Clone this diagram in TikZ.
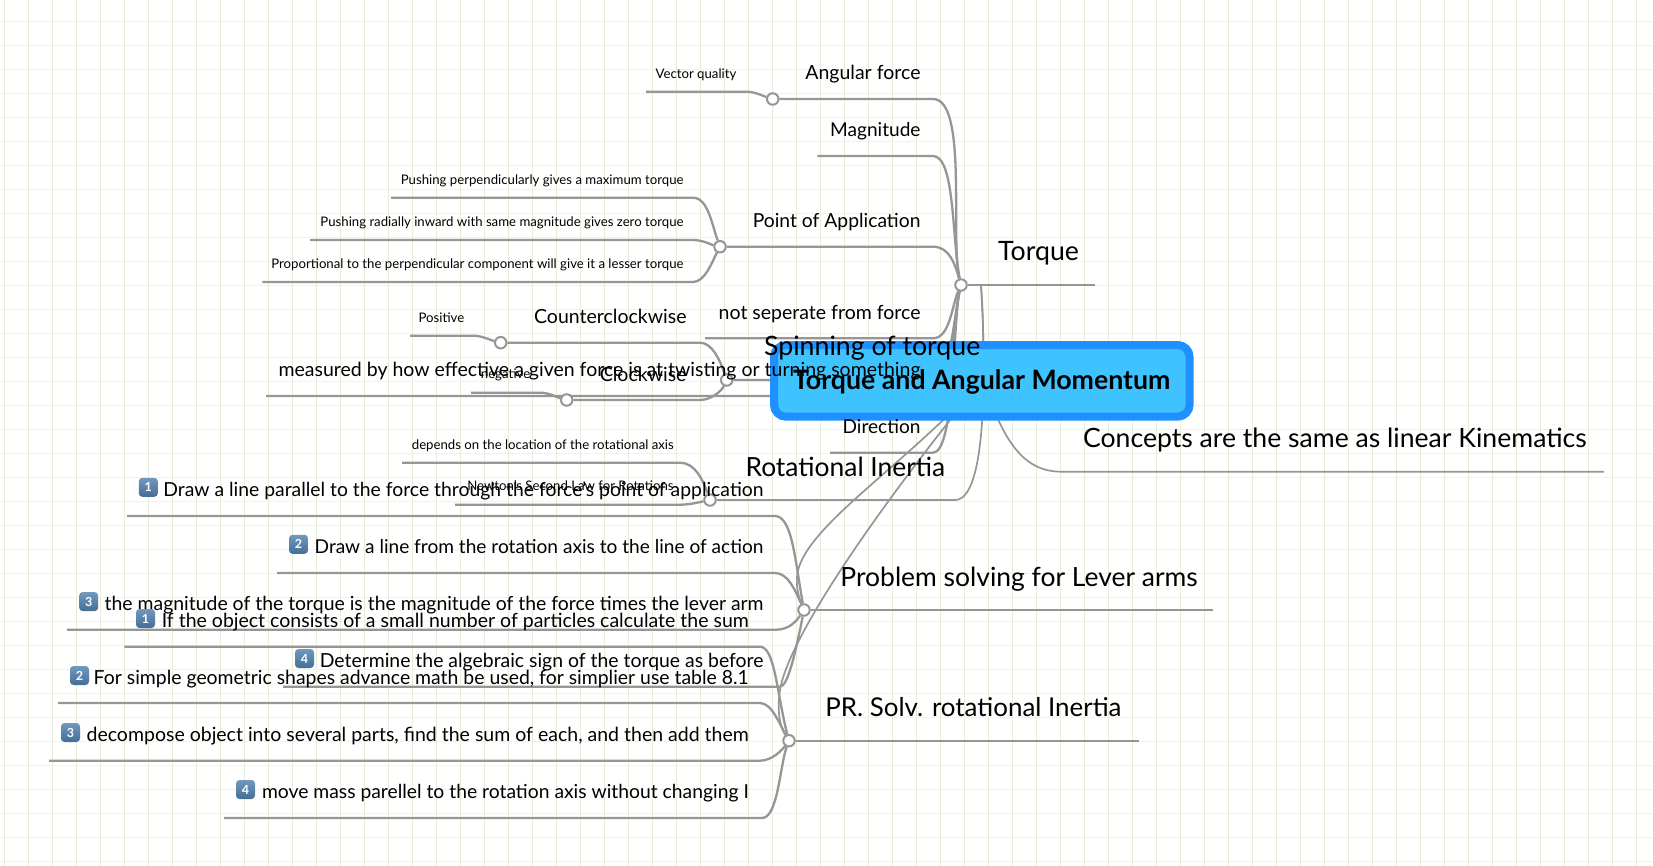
\documentclass[tikz,border=0pt]{standalone}
\usepackage{fontspec}
\setmainfont{Lato}
\pgfdeclarelayer{gridlayer}
\pgfdeclarelayer{linelayer}
\pgfsetlayers{gridlayer,linelayer,main}
\definecolor{linkgray}{HTML}{969696}
\definecolor{gridv}{HTML}{E6EDD9}
\definecolor{gridh}{HTML}{F1F4EB}
\definecolor{rootfill}{HTML}{3FC3FF}
\definecolor{rootedge}{HTML}{1E90FF}
\definecolor{keytop}{HTML}{7199BE}
\definecolor{keybot}{HTML}{446E97}
\begin{document}
\begin{tikzpicture}[x=1pt,y=-1pt,
link/.style={draw=linkgray,line width=2.3pt},
rootlink/.style={draw=linkgray,line width=1.7pt},
hub/.style={circle,draw=linkgray,fill=white,line width=2pt,minimum size=11.5pt,inner sep=0pt},
big/.style={inner sep=0pt,font=\fontsize{#1}{30}\selectfont},
big/.default=26.7,
mid/.style={inner sep=0pt,anchor=base east,font=\fontsize{#1}{24}\selectfont},
mid/.default=19.5,
small/.style={inner sep=0pt,anchor=base east,font=\fontsize{13.2}{16}\selectfont},
keycap/.style={rounded corners=3.5pt,minimum size=19pt,inner sep=0pt,top color=keytop,bottom color=keybot,text=white,font=\bfseries\fontsize{12.5}{14}\selectfont},
]
\useasboundingbox (0,0) rectangle (1653,866);
\begin{pgfonlayer}{gridlayer}
\fill[white] (0,0) rectangle (1653,866);
\foreach \y in {0,...,35} \draw[gridh,line width=1pt] (0,21.5+\y*24) -- (1653,21.5+\y*24);
\foreach \x in {0,...,68} \draw[gridv,line width=1pt] (4.5+\x*24,0) -- (4.5+\x*24,866);
\end{pgfonlayer}

% root
\node[draw=rootedge,fill=rootfill,line width=8pt,rounded corners=12pt,minimum width=415.6pt,minimum height=71.7pt,inner sep=0pt,font=\bfseries\fontsize{26.7}{30}\selectfont] (root) at (981.8,380.85) {\raisebox{-8.6pt}[0pt][0pt]{Torque and Angular Momentum}};

% hubs
\node[hub] (hubTorque) at (961,285) {};
\node[hub] (hubAngular) at (772.7,99) {};
\node[hub] (hubPoint) at (720,246.7) {};
\node[hub] (hubSpin) at (726.7,380) {};
\node[hub] (hubCounter) at (500.7,342.7) {};
\node[hub] (hubClock) at (566.7,400) {};
\node[hub] (hubInertia) at (710,500) {};
\node[hub] (hubLever) at (804,610) {};
\node[hub] (hubSolv) at (789,740.7) {};

% free ends
\coordinate (endTorque) at (1094.7,285);
\coordinate (joinTorque) at (981,285);
\coordinate (endConcepts) at (1604,471.7);
\coordinate (endLever) at (1213,610);
\coordinate (endSolv) at (1138.7,740.7);
\coordinate (endVector) at (646,91.7);
\coordinate (endMagnitude) at (817.3,156);
\coordinate (endPushA) at (391,197.7);
\coordinate (endPushB) at (310,240);
\coordinate (endPushC) at (262.3,282);
\coordinate (endSeperate) at (705,338.3);
\coordinate (endPositive) at (410,335.7);
\coordinate (endNegative) at (471,392.7);
\coordinate (endMeasured) at (266,396);
\coordinate (endDirection) at (830,452.7);
\coordinate (endDepends) at (402,462.7);
\coordinate (endNewton) at (455,504.7);
\coordinate (endLineA) at (127,516);
\coordinate (endLineB) at (277,573);
\coordinate (endLineC) at (67,629.7);
\coordinate (endLineD) at (283,686.7);
\coordinate (endSolvA) at (124.3,646.7);
\coordinate (endSolvB) at (58,703);
\coordinate (endSolvC) at (49,760.7);
\coordinate (endSolvD) at (224,818);

\begin{pgfonlayer}{linelayer}
% from the root
\draw[rootlink] (root.center) .. controls (984,350) and (983.5,320) .. (joinTorque);
\draw[rootlink] (joinTorque) .. controls (986,370) and (987,500) .. (955,500) -- (hubInertia);
\draw[rootlink] (root.center) .. controls (1000,425) and (1015,471.7) .. (1061,471.7) -- (endConcepts);
\draw[rootlink] (root.center) .. controls (900,470) and (800,530) .. (797,577) .. controls (796,590) and (800,600) .. (hubLever);
\draw[rootlink] (root.center) .. controls (900,480) and (790,630) .. (780,690) .. controls (776,715) and (782,730) .. (hubSolv);
\draw[link] (hubTorque) -- (endTorque);
\draw[link] (hubLever) -- (endLever);
\draw[link] (hubSolv) -- (endSolv);
% torque
\draw[link] (hubAngular) -- (933,99) .. controls (968,99) and (950,240) .. (hubTorque);
\draw[link] (endMagnitude) -- (933,156) .. controls (955,156) and (952,240) .. (hubTorque);
\draw[link] (hubPoint) -- (933,246.7) .. controls (950,246.7) and (955,265) .. (hubTorque);
\draw[link] (endSeperate) -- (933,338.3) .. controls (950,338.3) and (952,305) .. (hubTorque);
\draw[link] (hubSpin) -- (933,380) .. controls (950,380) and (955,310) .. (hubTorque);
\draw[link] (endMeasured) -- (933,396) .. controls (952,396) and (955,310) .. (hubTorque);
\draw[link] (endDirection) -- (933,452.7) .. controls (955,452.7) and (953,320) .. (hubTorque);
% leaves
\draw[link] (endVector) -- (746,91.7) .. controls (755,91.7) and (763,96) .. (hubAngular);
\draw[link] (endPushA) -- (693,197.7) .. controls (708,197.7) and (712,225) .. (hubPoint);
\draw[link] (endPushB) -- (693,240) .. controls (703,240) and (712,245) .. (hubPoint);
\draw[link] (endPushC) -- (693,282) .. controls (705,282) and (712,262) .. (hubPoint);
\draw[link] (hubCounter) -- (700,342.7) .. controls (712,342.7) and (720,360) .. (hubSpin);
\draw[link] (hubClock) -- (700,400) .. controls (712,400) and (722,390) .. (hubSpin);
\draw[link] (endPositive) -- (473,335.7) .. controls (482,335.7) and (490,340) .. (hubCounter);
\draw[link] (endNegative) -- (540,392.7) .. controls (549,392.7) and (556,397) .. (hubClock);
\draw[link] (endDepends) -- (680,462.7) .. controls (695,462.7) and (703,480) .. (hubInertia);
\draw[link] (endNewton) -- (680,504.7) .. controls (690,504.7) and (700,502) .. (hubInertia);
% lever arms
\draw[link] (endLineA) -- (775,516) .. controls (792,516) and (795,560) .. (hubLever);
\draw[link] (endLineB) -- (775,573) .. controls (788,573) and (795,590) .. (hubLever);
\draw[link] (endLineC) -- (776,629.7) .. controls (790,629.7) and (797,620) .. (hubLever);
\draw[link] (endLineD) -- (780,686.7) .. controls (788,686.7) and (796,650) .. (hubLever);
% rotational inertia
\draw[link] (endSolvA) -- (760,646.7) .. controls (775,646.7) and (777,695) .. (hubSolv);
\draw[link] (endSolvB) -- (760,703) .. controls (772,703) and (780,725) .. (hubSolv);
\draw[link] (endSolvC) -- (760,760.7) .. controls (772,760.7) and (782,750) .. (hubSolv);
\draw[link] (endSolvD) -- (762,818) .. controls (778,818) and (780,765) .. (hubSolv);
\end{pgfonlayer}

% first level
\node[big,anchor=base west] (torque) at (998,261) {Torque};
\node[big,anchor=base east] (spinning) at (980.5,355) {Spinning of torque};
\node[big=26.6,anchor=base east] (concepts) at (1587,447.5) {Concepts are the same as linear Kinematics};
\node[big=26.4,anchor=base east] (inertia) at (945.5,476) {Rotational Inertia};
\node[big=26.45,anchor=base east] (lever) at (1198,586) {Problem solving for Lever arms};
\node[big=25.9,anchor=base east] (solving) at (1121.7,716.5) {PR. Solv. rotational Inertia};
% second level
\node[mid] (angular) at (920.7,80) {Angular force};
\node[mid=19.1] (magnitude) at (920.7,137) {Magnitude};
\node[mid=19.3] (point) at (920.7,227.7) {Point of Application};
\node[mid] (seperate) at (920.7,319.7) {not seperate from force};
\node[mid] (counter) at (686.7,323.7) {Counterclockwise};
\node[mid] (clock) at (686.7,381) {Clockwise};
\node[mid] (measured) at (920.7,376.5) {measured by how effective a given force is at twisting or turning something};
\node[mid=19.1] (direction) at (920.7,433) {Direction};
\node[mid=19.35] (lineA) at (763.7,496.5) {Draw a line parallel to the force through the force's point of application};
\node[mid=19.1] (lineB) at (763.7,553.5) {Draw a line from the rotation axis to the line of action};
\node[mid=19.4] (lineC) at (763.7,610.5) {the magnitude of the torque is the magnitude of the force times the lever arm};
\node[mid=19.4] (lineD) at (763.7,667.5) {Determine the algebraic sign of the torque as before};
\node[mid] (solvA) at (749,627.5) {If the object consists of a small number of particles calculate the sum};
\node[mid=19.4] (solvB) at (749,684.5) {For simple geometric shapes advance math be used, for simplier use table 8.1};
\node[mid] (solvC) at (749,741.5) {decompose object into several parts, find the sum of each, and then add them};
\node[mid=19.3] (solvD) at (749,798.5) {move mass parellel to the rotation axis without changing I};
% leaf text
\node[small] (vector) at (736.5,78.7) {Vector quality};
\node[small] (pushA) at (683.7,184.7) {Pushing perpendicularly gives a maximum torque};
\node[small] (pushB) at (683.7,226.7) {Pushing radially inward with same magnitude gives zero torque};
\node[small] (pushC) at (683.7,268.7) {Proportional to the perpendicular component will give it a lesser torque};
\node[small] (positive) at (464.5,322.4) {Positive};
\node[small] (negative) at (530.5,378.7) {negative};
\node[small] (depends) at (674,449.7) {depends on the location of the rotational axis};
\node[small] (newton) at (673.7,490.7) {Newton's Second Law for Rotations};
% keycaps
\node[keycap] (keyLineA) at (148.3,487.3) {1};
\node[keycap] (keyLineB) at (298.5,544.3) {2};
\node[keycap] (keyLineC) at (88.7,601.6) {3};
\node[keycap] (keyLineD) at (304.5,658.5) {4};
\node[keycap] (keySolvA) at (145.5,618.5) {1};
\node[keycap] (keySolvB) at (79.5,675.5) {2};
\node[keycap] (keySolvC) at (70.5,732.5) {3};
\node[keycap] (keySolvD) at (245.5,789.5) {4};
\end{tikzpicture}
\end{document}
